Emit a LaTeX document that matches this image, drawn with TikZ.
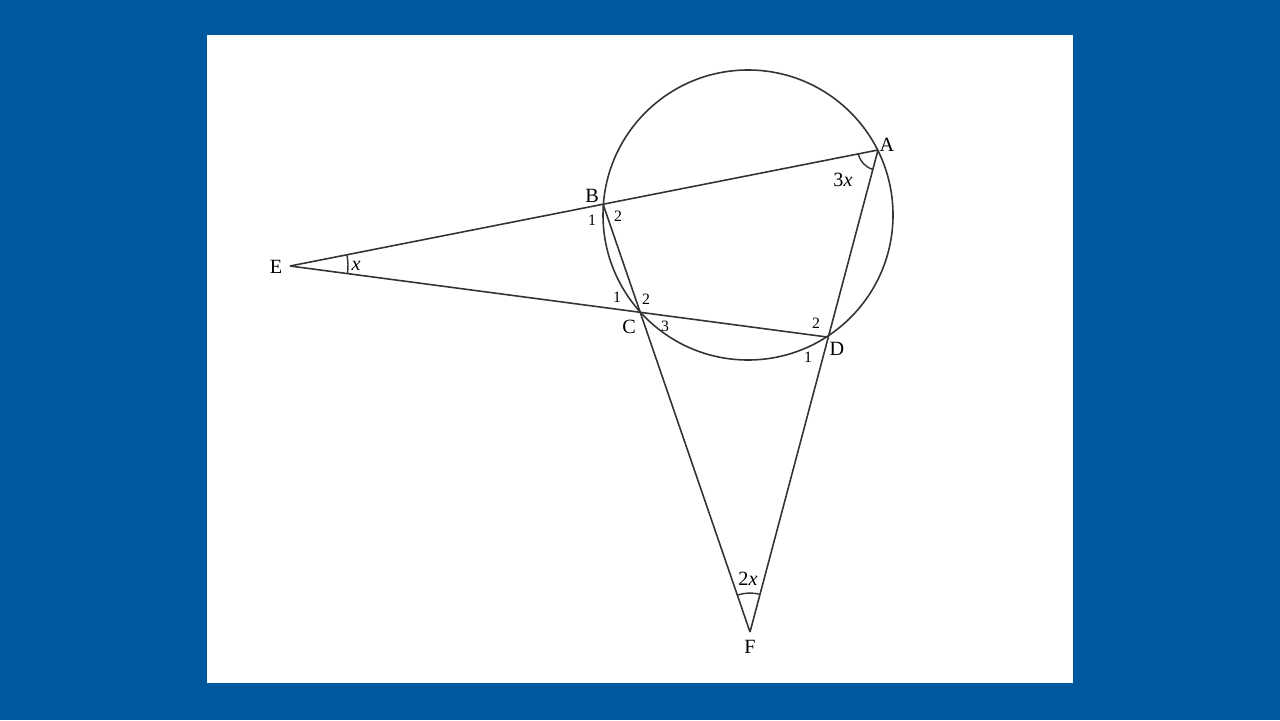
\documentclass[tikz,border=0pt]{standalone}
\usepackage{fontspec}
\setmainfont{Liberation Serif}
\usetikzlibrary{angles}
\definecolor{bgblue}{HTML}{00589E}
\tikzset{
  geo/.style={line width=0.9pt,black!80},
  ptlabel/.style={font=\fontsize{11.5}{13}\selectfont},
  numlabel/.style={font=\fontsize{9}{10}\selectfont},
  anglemark/.style={draw,line width=0.8pt,black!80}
}
\begin{document}
\begin{tikzpicture}[x=0.02cm,y=-0.02cm]
        %Nền
            \fill[bgblue] (0,0) rectangle (1280,720);
            \fill[white] (207,35) rectangle (1073,683);
        %Điểm
            \coordinate (O) at (748,215);
            \coordinate (A) at (878,150);
            \coordinate (B) at (603,204);
            \coordinate (C) at (640,314);
            \coordinate (D) at (827,337);
            \coordinate (E) at (290,266);
            \coordinate (F) at (750,632);
        %Đường tròn
            \draw[geo] (O) circle (145);
        %Các đoạn thẳng
            \draw[geo] (E)--(A);
            \draw[geo] (E)--(D);
            \draw[geo] (B)--(F);
            \draw[geo] (A)--(F);
        %Góc
            \pic[anglemark,angle radius=1.16cm] {angle=C--E--B};
            \pic[anglemark,angle radius=0.4cm] {angle=E--A--F};
            \pic[anglemark,angle radius=0.78cm] {angle=D--F--C};
        %Nhãn điểm
            \node[ptlabel] (lA) at (887,145) {A};
            \node[ptlabel] (lB) at (592,196) {B};
            \node[ptlabel] (lE) at (276,267) {E};
            \node[ptlabel] (lC) at (629,327) {C};
            \node[ptlabel] (lD) at (837,349) {D};
            \node[ptlabel] (lF) at (750,647) {F};
        %Nhãn góc
            \node[ptlabel] (aA) at (843,180) {3\textit{x}};
            \node[ptlabel] (aE) at (356,266) {\textit{x}};
            \node[ptlabel] (aF) at (748,579) {2\textit{x}};
        %Số góc
            \foreach \x/\y/\t in{
            592/220/1, 618/216/2, 617/297/1, 646/299/2, 665/326/3, 816/323/2, 808/357/1
            }{\node[numlabel] at (\x,\y) {\t};}
\end{tikzpicture}
\end{document}
